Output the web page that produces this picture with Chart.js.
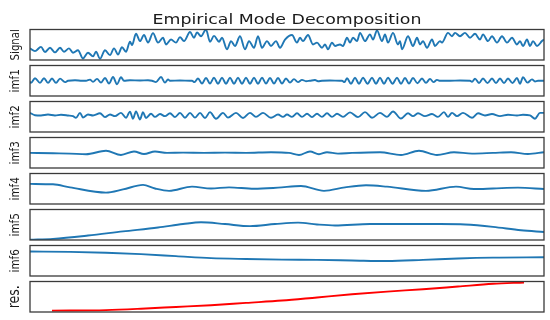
<!DOCTYPE html>
<html>
<head>
<meta charset="utf-8">
<script src="https://cdn.jsdelivr.net/npm/chart.js@4"></script>
<style>
html,body{margin:0;padding:0;background:#fff;}
#wrap{position:relative;width:550px;height:320px;overflow:hidden;background:#fff;}
#wrap canvas{position:absolute;left:0;}
</style>
</head>
<body>
<div id="wrap"></div>
<script>
// ---- data: [time, value] pairs ----
const titleText = "Empirical Mode Decomposition";
const panelLabels = ["Signal", "imf1", "imf2", "imf3", "imf4", "imf5", "imf6", "res."];
const timeRange = [0, 514];

const signal = [[0,3.8],[5,2.9],[11,4.3],[15,2.6],[20,4.0],[25,2.5],[30,4.0],[34,2.7],[39,3.8],[43,2.4],[48,3.2],[53,0.5],[58,2.4],[63,1.2],[66,2.7],[70,0.4],[75,3.2],[80,1.6],[84,3.8],[88,1.8],[92,4.2],[96,2.7],[100,6.0],[102,4.9],[106,8.6],[110,6.2],[114,8.2],[118,5.7],[123,8.8],[128,5.7],[133,7.3],[136,5.1],[141,6.7],[146,5.7],[150,7.5],[154,6.2],[160,9.2],[164,7.3],[167,9.0],[171,7.8],[176,10.0],[180,6.0],[184,7.9],[189,6.0],[192,7.3],[197,3.5],[201,6.2],[205,4.6],[210,7.8],[215,3.5],[219,6.2],[224,4.0],[228,7.8],[232,4.0],[237,6.2],[241,4.6],[246,6.2],[250,4.0],[255,6.7],
[262,8.2],[267,5.7],[270,7.3],[273,6.2],[278,8.2],[283,5.1],[287,5.7],[292,4.0],[295,5.1],[298,3.5],[302,5.7],[305,4.6],[310,5.1],[313,4.6],[317,7.3],[320,5.7],[323,7.3],[327,6.2],[330,8.9],[335,6.2],[340,8.4],[343,6.7],[347,9.7],[352,6.2],[355,8.4],[358,5.7],[363,8.9],[368,5.1],[370,6.2],[372,3.5],[378,7.8],[383,4.6],[387,7.3],[390,5.1],[393,6.2],[397,4.0],[402,6.7],[405,4.6],[410,6.2],[412,5.7],[418,8.9],[422,7.8],[425,8.9],[430,7.8],[435,8.9],[440,7.3],[445,8.6],[450,6.7],[453,8.4],[458,6.2],[462,7.8],[467,5.7],[472,7.8],[477,5.7],[482,7.3],[487,5.1],[490,6.2],[493,4.6],[497,6.7],[500,4.6],[503,6.2],[507,4.6],[512,6.2],[514,6.7]];

const imf1 = [[0,-0.4],[1,-0.9],[5,1.1],[10,-0.9],[14,1.1],[18,-0.9],[22,1.0],[26,-0.9],[30,0.9],[35,-0.6],[38,0],[45,0.2],[52,0],[56,0],[60,0.5],[63,-0.5],[67,0.8],[71,-0.8],[75,1.2],[79,-1.2],[83,1.6],[87,-1.5],[91,1.5],[94,0],[100,0.2],[110,0.1],[118,0.2],[122,0],[126,-0.6],[131,1.6],[135,-0.8],[138,0.6],[140,0],[150,0.1],[160,0],[162,0],[164.5,-0.6],[168,1.0],[172,-1.2],[176,1.2],[180,-1.2],[184,1.3],[188,-1.3],[192,1.3],[196,-1.3],[200,1.3],[204,-1.3],[208,1.3],[212,-1.3],[216,1.3],[220,-1.3],[224,1.3],[228,-1.3],[232,1.3],[236,-1.2],[240,1.2],[244,-1.2],[248,1.2],[252,-1.2],[256,1.0],[260,-0.8],[264,0.7],[268,-0.6],[272,0.4],[276,-0.2],[280,0],[285,0.3],[288,-0.2],[292,0],[300,0.1],[310,0],[312,0],[314.5,-0.6],[317,1.1],[321,-1.3],[325,1.3],[329,-1.3],[333,1.3],[337.5,-1.3],[342,1.3],[346,-1.3],[350,1.3],[354,-1.3],[358,1.3],[362.5,-1.3],[367,1.3],[371,-1.3],[375,1.2],[379,-1.2],[383,1.2],[387.5,-1.1],[392,1.0],[396,-0.9],[400,0.8],[403.5,-0.6],[407,0.4],[410,0],[420,0],[430,0.1],[440,0],[442,-0.5],[445,0.9],[449,-1.0],[453,1.0],[457.5,-1.0],[462,1.0],[466,-1.0],[470,1.0],[474,-1.0],[478,1.0],[482.5,-1.0],[487,1.2],[490,-1.3],[493,1.5],[497.5,-0.8],[502,0.6],[505,-0.3],[508,0],[514,0]];

const imf2 = [[0,1.1],[5,0.1],[11,0],[18,0.4],[25,0],[31,0.3],[38,0],[43,-0.3],[46,-1.0],[50,1.1],[53,-0.9],[58,0.4],[63,0],[70,0.9],[75,-0.7],[80,0.4],[85,-0.3],[91,1.1],[96,-1.0],[100,1.6],[103,-1.4],[106,1.7],[110,-1.7],[113,1.4],[116,-1.1],[121,0.7],[125,-0.6],[130,0.6],[135,-0.3],[140,0.9],[145,-0.7],[150,1.1],[155,-1.0],[160,1.1],[165,-0.9],[170,1.1],[175,-1.1],[180,1.4],[186,-1.4],[193,1.1],[198,-0.9],[206,1.1],[213,-1.1],[220,1.1],[226,-0.6],[233,1.1],[241,-1.0],[248,0.4],[253,-0.6],
[257,0.4],[262,-0.6],[267,0.9],[272,-0.6],[277,0.7],[282,-0.7],[287,0.7],[292,-0.6],[297,0.9],[302,-0.6],[307,0.7],[313,-0.6],[320,1.3],[328,-0.7],[335,1.4],[342,-1.0],[350,1.1],[357,-0.6],[363,1.7],[371,-1.3],[378,0.9],[383,-0.3],[388,0.9],[395,-0.3],[402,0.6],[408,-0.6],[414,1.4],[418,-0.6],[422,1.1],[427,-0.3],[433,1.1],[442,-1.0],[448,0.9],[455,0],[462,0.6],[470,-0.3],[478,0.3],[487,0],[493,0.3],[500,0],[505,-1.4],[510,1.1],[514,1.1]];

const imf3 = [[0,-0.1],[23,-0.4],[40,-0.6],[56,-1.1],[76,1.4],[91,-1.6],[104,0.9],[114,-0.9],[125,0.9],[137,-0.1],[153,0.1],[174,-0.1],[195,0.1],[216,-0.1],[241,0.4],[259,-0.1],[269,-1.6],[280,0.9],[289,-1.1],[297,0.4],[308,-0.6],[322,-0.1],[350,0.4],[371,-1.6],[389,1.4],[407,-1.6],[424,0.4],[442,-0.6],[463,-0.1],[481,0.4],[498,-0.9],[514,0.4]];

const imf4 = [[0,1.75],[23,1.6],[40,0.5],[76,-1.4],[93,-0.25],[113,1.4],[125,0.1],[139,-0.75],[162,0.75],[181,0.1],[199,0.5],[224,0],[248,0.4],[271,1.0],[294,-0.75],[315,0.5],[336,1.25],[357,0.75],[396,-0.75],[426,0.75],[444,-0.1],[463,0.1],[488,0.4],[514,-0.1]];

const imf5 = [[0,-5.4],[23,-5.1],[58,-3.9],[93,-2.4],[128,-1.0],[153,0.25],[171,0.9],[195,0.25],[220,-0.5],[245,0.25],[268,0.75],[287,0.1],[305,-0.25],[340,0.25],[375,0.25],[410,0.25],[435,0.1],[463,-0.75],[491,-2.0],[514,-2.6]];

const imf6 = [[0,3.2],[40,3.1],[76,2.8],[111,2.3],[146,1.6],[181,0.9],[216,0.6],[252,0.4],[287,0.3],[322,0.1],[357,-0.1],[393,0.3],[428,0.8],[463,1.1],[514,1.2]];

const residue = [[22,-5.1],[76,-4.9],[111,-4.4],[146,-3.75],[181,-3.1],[216,-2.25],[252,-1.4],[287,-0.25],[322,0.9],[357,1.9],[393,2.75],[428,3.75],[463,4.75],[494,5.25]];

const seriesList = [signal, imf1, imf2, imf3, imf4, imf5, imf6, residue];
const yLimits = [[0,10],[-6.6,6.6],[-7.0,5.9],[-10.9,10.9],[-5.5,5.5],[-5.5,5.5],[-5.3,5.3],[-5.6,5.6]];
const lineColors = ["#1f77b4","#1f77b4","#1f77b4","#1f77b4","#1f77b4","#1f77b4","#1f77b4","#ff0000"];
const labelSizes = [10.2, 10.4, 10.4, 10.4, 10.4, 10.4, 10.4, 12.5];

// ---- layout ----
const W = 550;
const plotLeft = 30, plotRight = 544;
const firstTop = 29.5, pitch = 36, panelH = 30.5;

const framePlugin = {
  id: 'framePlugin',
  afterDraw(chart, args, opts) {
    const ctx = chart.ctx, a = chart.chartArea;
    ctx.save();
    ctx.strokeStyle = '#3a3a3a';
    ctx.lineWidth = 1.3;
    ctx.strokeRect(a.left, a.top, a.right - a.left, a.bottom - a.top);
    ctx.restore();
    // y label (rotated, slightly widened like the reference)
    ctx.save();
    ctx.translate(18.5, (a.top + a.bottom) / 2);
    ctx.rotate(-Math.PI / 2);
    ctx.scale(1, 1.22);
    ctx.font = opts.labelSize + 'px "DejaVu Sans"';
    ctx.fillStyle = '#1a1a1a';
    ctx.textAlign = 'center';
    ctx.textBaseline = 'alphabetic';
    ctx.fillText(opts.label, 0, 0);
    ctx.restore();
    if (opts.title) {
      ctx.save();
      ctx.translate((plotLeft + plotRight) / 2, 24);
      ctx.scale(1.24, 1);
      ctx.font = '14px "DejaVu Sans"';
      ctx.fillStyle = '#1a1a1a';
      ctx.textAlign = 'center';
      ctx.textBaseline = 'alphabetic';
      ctx.fillText(opts.title, 0, 0);
      ctx.restore();
    }
  }
};

const wrap = document.getElementById('wrap');
seriesList.forEach((series, i) => {
  const panelTop = firstTop + pitch * i;
  let canvasTop, padTop;
  if (i === 0) { canvasTop = 0; padTop = panelTop; }
  else { canvasTop = Math.floor(panelTop) - 5; padTop = panelTop - canvasTop; }
  const padBottom = 5;
  const H = Math.ceil(padTop + panelH + padBottom);
  const cv = document.createElement('canvas');
  cv.width = W; cv.height = H;
  cv.style.width = W + 'px'; cv.style.height = H + 'px';
  cv.style.top = canvasTop + 'px';
  wrap.appendChild(cv);
  new Chart(cv.getContext('2d'), {
    type: 'line',
    data: {
      datasets: [{
        data: series.map(p => ({x: p[0], y: p[1]})),
        borderColor: lineColors[i],
        borderWidth: 1.9,
        pointRadius: 0,
        fill: false,
        cubicInterpolationMode: 'monotone'
      }]
    },
    options: {
      responsive: false,
      animation: false,
      devicePixelRatio: 1,
      layout: { padding: { left: plotLeft, right: W - plotRight, top: padTop, bottom: H - padTop - panelH } },
      scales: {
        x: { type: 'linear', display: false, min: timeRange[0], max: timeRange[1] },
        y: { type: 'linear', display: false, min: yLimits[i][0], max: yLimits[i][1] }
      },
      plugins: {
        legend: { display: false },
        tooltip: { enabled: false },
        title: { display: false },
        framePlugin: { label: panelLabels[i], labelSize: labelSizes[i], title: i === 0 ? titleText : null }
      }
    },
    plugins: [framePlugin]
  });
});
</script>
</body>
</html>
